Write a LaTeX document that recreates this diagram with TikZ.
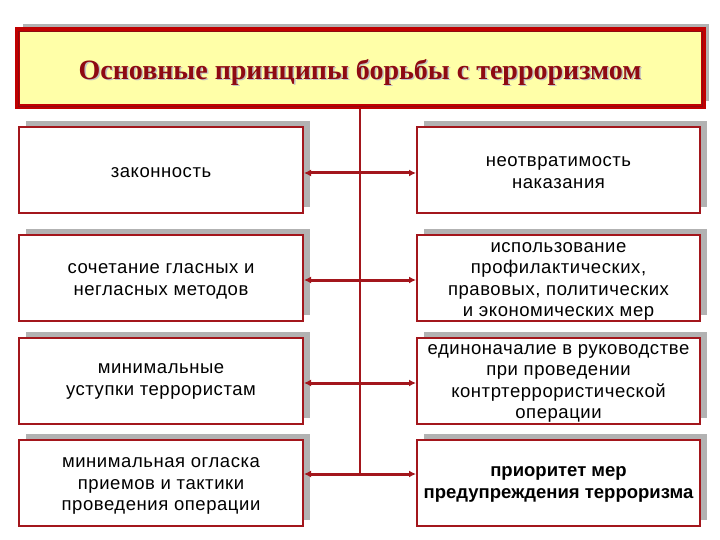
\documentclass[tikz,border=0pt]{standalone}
\usepackage{fontspec}
\setmainfont{Liberation Sans}
\newfontfamily\boxfont[LetterSpace=3]{Liberation Sans}
\newfontfamily\titlefont{Liberation Serif}
\usetikzlibrary{shadows,arrows.meta}
\definecolor{bred}{HTML}{A3161C}
\definecolor{tbred}{HTML}{C00000}
\definecolor{tred}{HTML}{8E0A12}
\definecolor{tyellow}{HTML}{FFFFA8}
\definecolor{shgray}{HTML}{B2B2B2}
\tikzset{
  box/.style={draw=bred, line width=2pt, fill=white, minimum height=86pt, inner sep=0pt,
    general shadow={fill=shgray, shadow xshift=7pt, shadow yshift=6pt}},
  lbox/.style={box, minimum width=284pt},
  rbox/.style={box, minimum width=283pt},
  btext/.style={align=center, inner sep=0pt, font=\boxfont\fontsize{18.5}{21.5}\selectfont},
  conn/.style={color=bred, line width=3pt, arrows={Latex[length=7pt,width=7pt]-Latex[length=7pt,width=7pt]}},
  vline/.style={color=bred, line width=2pt},
  titletext/.style={font=\titlefont\bfseries\fontsize{28}{32}\selectfont},
}
\begin{document}
\begin{tikzpicture}[x=1pt,y=-1pt]
\useasboundingbox (0,0) rectangle (720,540);
% title
\node[draw=tbred, line width=5pt, fill=tyellow, minimum width=686pt, minimum height=77pt,
  general shadow={fill=shgray, shadow xshift=6pt, shadow yshift=6pt}] (title) at (360,68.5) {};
\draw[tred, line width=0.8pt] ([shift={(3.5,3.5)}]title.north west) rectangle ([shift={(-3.5,-3.5)}]title.south east);
\node[titletext, text=shgray!80] (tsh) at (361.5,73.5) {Основные принципы борьбы с терроризмом};
\node[titletext, text=tred] (ttext) at (360,72) {Основные принципы борьбы с терроризмом};
% left boxes
\node[lbox] (L1) at (161,170) {};
\node[lbox] (L2) at (161,278) {};
\node[lbox] (L3) at (161,380.5) {};
\node[lbox] (L4) at (161,482.5) {};
% right boxes
\node[rbox] (R1) at (558.5,170) {};
\node[rbox] (R2) at (558.5,278) {};
\node[rbox] (R3) at (558.5,380.5) {};
\node[rbox] (R4) at (558.5,482.5) {};
% texts
\node[btext] (L1t) at ([yshift=-3pt]L1.center) {законность};
\node[btext] (L2t) at ([yshift=-3.5pt]L2.center) {сочетание гласных и\\ негласных методов};
\node[btext] (L3t) at ([yshift=-1pt]L3.center) {минимальные\\ уступки террористам};
\node[btext] (L4t) at ([yshift=-3.5pt]L4.center) {минимальная огласка\\ приемов и тактики\\ проведения операции};
\node[btext] (R1t) at ([yshift=-2.5pt]R1.center) {неотвратимость\\ наказания};
\node[btext] (R2t) at ([yshift=-3.5pt]R2.center) {использование\\ профилактических,\\ правовых, политических\\ и экономических мер};
\node[btext] (R3t) at ([yshift=-3pt]R3.center) {единоначалие в руководстве\\ при проведении\\ контртеррористической\\ операции};
\node[btext, font=\fontsize{18.5}{22}\selectfont\bfseries] (R4t) at ([yshift=-2pt]R4.center) {приоритет мер\\ предупреждения терроризма};
% connectors
\coordinate (c1) at (360,173);
\coordinate (c2) at (360,280);
\coordinate (c3) at (360,383);
\coordinate (c4) at (360,474);
\draw[vline] (title.south -| c1) -- (c4);
\draw[conn] (L1.east |- c1) -- (R1.west |- c1);
\draw[conn] (L2.east |- c2) -- (R2.west |- c2);
\draw[conn] (L3.east |- c3) -- (R3.west |- c3);
\draw[conn] (L4.east |- c4) -- (R4.west |- c4);
\end{tikzpicture}
\end{document}
